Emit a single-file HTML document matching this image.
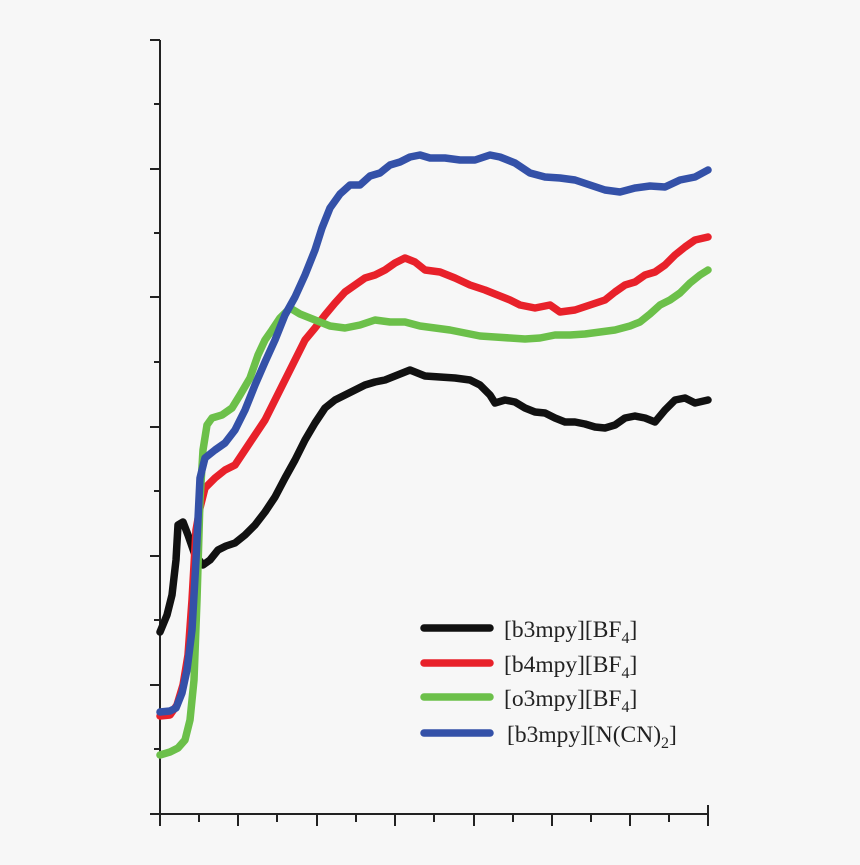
<!DOCTYPE html>
<html><head><meta charset="utf-8"><style>
html,body{margin:0;padding:0;background:#f7f7f7;}
svg{display:block}
text{font-family:"Liberation Serif",serif;font-size:23.5px;fill:#222}
</style></head><body>
<svg width="860" height="865" viewBox="0 0 860 865" xmlns="http://www.w3.org/2000/svg">
<rect width="860" height="865" fill="#f7f7f7"/>
<g stroke="#222" stroke-width="2" fill="none">
<line x1="150" y1="40" x2="160" y2="40"/>
<line x1="160" y1="40" x2="160" y2="815"/>
<line x1="150" y1="814" x2="709" y2="814"/>
<line x1="708" y1="814" x2="708" y2="805"/>
<path d="M150 169H160M150 297H160M150 427H160M150 556H160M150 685H160M154 104H160M154 233H160M154 362H160M154 491H160M154 620H160M154 749H160"/>
<path d="M160 814V826M238 814V826M317 814V826M395 814V826M474 814V826M552 814V826M630 814V826M708 814V826M199 814V822M277 814V822M356 814V822M434 814V822M513 814V822M591 814V822M669 814V822"/>
</g>
<g fill="none" stroke-width="7.5" stroke-linejoin="round" stroke-linecap="round">
<polyline stroke="#111" points="160,632 167,615 172,595 176,560 178,525 183,522 188,535 195,555 203,565 210,560 218,550 226,546 235,543 245,535 255,525 265,512 275,497 285,478 295,460 305,440 315,423 325,408 335,400 345,395 355,390 365,385 375,382 385,380 395,376 410,370 425,376 440,377 455,378 470,380 480,385 490,395 495,403 505,400 515,402 525,408 535,412 545,413 555,418 565,422 575,422 585,424 595,427 605,428 615,425 625,418 635,416 645,418 655,422 665,410 675,400 685,398 695,403 708,400"/>
<polyline stroke="#e8212a" points="160,716 170,715 177,705 183,685 188,655 192,600 196,530 200,508 205,488 215,478 225,470 235,465 245,450 255,435 265,420 275,400 285,380 295,360 305,340 315,328 325,315 335,303 345,292 355,285 365,278 375,275 385,270 395,263 405,258 415,262 425,270 440,272 455,278 470,285 485,290 500,296 510,300 520,305 535,308 550,305 560,312 575,310 590,305 605,300 615,292 625,285 635,282 645,275 655,272 665,265 675,255 685,247 695,240 708,237"/>
<polyline stroke="#6cc04a" points="160,755 170,752 178,748 185,740 190,720 194,680 197,600 200,500 203,450 207,425 212,418 222,415 232,408 240,395 250,378 258,355 265,340 272,330 280,318 290,308 300,314 310,318 320,322 330,326 345,328 360,325 375,320 390,322 405,322 420,326 435,328 450,330 465,333 480,336 495,337 510,338 525,339 540,338 555,335 570,335 585,334 600,332 615,330 630,326 640,322 650,314 660,305 670,300 680,293 690,283 700,275 708,270"/>
<polyline stroke="#3451a8" points="160,712 170,711 176,708 182,693 187,670 192,630 196,560 200,478 205,458 215,450 225,443 235,430 245,410 255,385 265,362 275,340 285,315 295,297 305,275 315,250 322,228 330,208 340,194 350,185 360,185 370,176 380,173 390,165 400,162 410,157 420,155 430,158 445,158 460,160 475,160 490,155 500,157 515,163 530,173 545,177 560,178 575,180 590,185 605,190 620,192 635,188 650,186 665,187 680,180 695,177 708,170"/>
<line stroke="#111" x1="424" y1="628" x2="490" y2="628"/>
<line stroke="#e8212a" x1="424" y1="663" x2="490" y2="663"/>
<line stroke="#6cc04a" x1="424" y1="697" x2="490" y2="697"/>
<line stroke="#3451a8" x1="424" y1="733" x2="490" y2="733"/>
</g>
<text x="504" y="637">[b3mpy][BF<tspan font-size="16" dy="6">4</tspan><tspan dy="-6">]</tspan></text>
<text x="504" y="672">[b4mpy][BF<tspan font-size="16" dy="6">4</tspan><tspan dy="-6">]</tspan></text>
<text x="504" y="706">[o3mpy][BF<tspan font-size="16" dy="6">4</tspan><tspan dy="-6">]</tspan></text>
<text x="507" y="742">[b3mpy][N(CN)<tspan font-size="16" dy="6">2</tspan><tspan dy="-6">]</tspan></text>
</svg>
</body></html>
